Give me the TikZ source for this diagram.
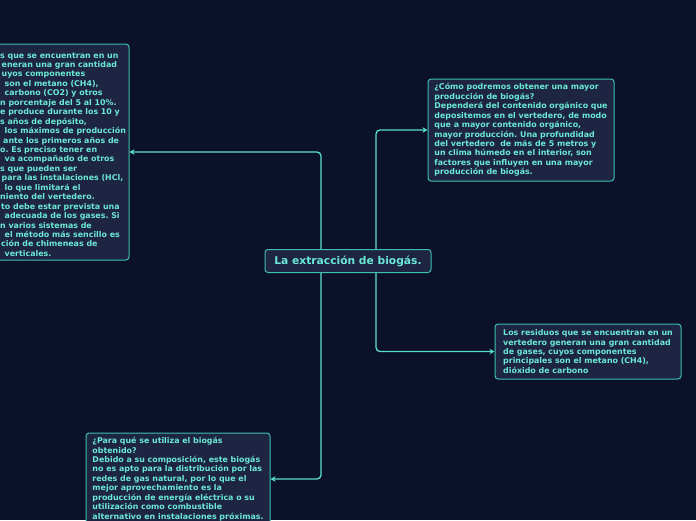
\documentclass[tikz,border=0pt]{standalone}
\usepackage{fontspec}
\setmainfont{DejaVu Sans}
\usetikzlibrary{arrows.meta}
\frenchspacing
\definecolor{bgc}{RGB}{11,17,40}
\definecolor{boxfill}{RGB}{29,37,66}
\definecolor{boxline}{RGB}{62,190,178}
\definecolor{txtc}{RGB}{108,232,214}
\definecolor{linec}{RGB}{88,222,205}
\tikzset{
 box/.style={draw=boxline, fill=boxfill, line width=1pt, rounded corners=3pt, inner sep=0pt},
 txt/.style={text=txtc, font=\fontsize{7.9pt}{9.44pt}\selectfont\bfseries\frenchspacing, align=left, inner sep=0pt},
 note/.style={box, txt},
 conn/.style={draw=linec, line width=1.3pt, rounded corners=4pt, -{Stealth[length=5pt,width=5.5pt]}},
}
\begin{document}
\begin{tikzpicture}[x=1pt,y=-1pt]
\useasboundingbox (0,0) rectangle (696,520);
\clip (0,0) rectangle (696,520);
\fill[bgc] (0,0) rectangle (696,520);

\node[box, minimum width=166pt, minimum height=23pt, text=txtc, font=\fontsize{10.7pt}{12pt}\selectfont\bfseries] (c) at (348,261) {La extracción de biogás.};

\node[note, minimum width=186pt, minimum height=102pt] (rt) at (521,130) {¿Cómo podremos obtener una mayor\\
producción de biogás?\\
Dependerá del contenido orgánico que\\
depositemos en el vertedero, de modo\\
que a mayor contenido orgánico,\\
mayor producción. Una profundidad\\
del vertedero\ \ de más de 5 metros y\\
un clima húmedo en el interior, son\\
factores que influyen en una mayor\\
producción de biogás.};

\node[note, minimum width=186pt, minimum height=55pt] (rb) at (588,351.5) {Los residuos que se encuentran en un\\
vertedero generan una gran cantidad\\
de gases, cuyos componentes\\
principales son el metano (CH4),\\
dióxido de carbono};

\node[note, minimum width=184pt, minimum height=92pt] (bt) at (178,479) {¿Para qué se utiliza el biogás\\
obtenido?\\
Debido a su composición, este biogás\\
no es apto para la distribución por las\\
redes de gas natural, por lo que el\\
mejor aprovechamiento es la\\
producción de energía eléctrica o su\\
utilización como combustible\\
alternativo en instalaciones próximas.};

\node[box, minimum width=186pt, minimum height=216pt] (lf) at (36,152) {};
\node[txt, anchor=west] (lftext) at (0,154.5) {s que se encuentran en un\\
\hspace*{1.5pt}eneran una gran cantidad\\
\hspace*{1.5pt}uyos componentes\\
\hspace*{4.5pt}son el metano (CH4),\\
\hspace*{4.5pt}carbono (CO2) y otros\\
n porcentaje del 5 al 10\%.\\
e produce durante los 10 y\\
s años de depósito,\\
\hspace*{4.5pt}los máximos de producción\\
\hspace*{3pt}ante los primeros años de\\
o. Es preciso tener en\\
\hspace*{4.5pt}va acompañado de otros\\
s que pueden ser\\
\hspace*{1.5pt}para las instalaciones (HCl,\\
\hspace*{4.5pt}lo que limitará el\\
niento del vertedero.\\
\hspace*{1pt}to debe estar prevista una\\
\hspace*{4.5pt}adecuada de los gases. Si\\
n varios sistemas de\\
\hspace*{4.5pt}el método más sencillo es\\
\hspace*{1pt}ción de chimeneas de\\
\hspace*{4.5pt}verticales.};

\draw[conn] ([xshift=-27pt]c.north) |- (lf.east);
\draw[conn] ([xshift=-27pt]c.south) |- (bt.east);
\draw[conn] ([xshift=28pt]c.north) |- (rt.west);
\draw[conn] ([xshift=28pt]c.south) |- (rb.west);
\end{tikzpicture}
\end{document}
